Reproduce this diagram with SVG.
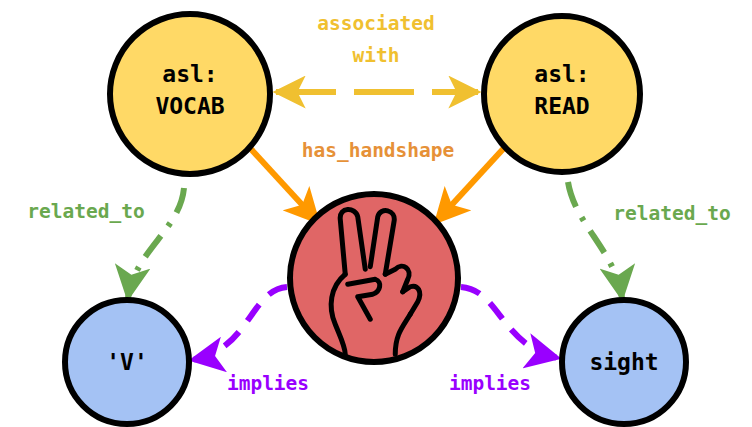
<svg xmlns="http://www.w3.org/2000/svg" width="752" height="427" viewBox="0 0 752 427">
<style>
.n{stroke:#000;stroke-width:6}
.t{font-family:"DejaVu Sans Mono",monospace;font-weight:bold;font-size:23px;text-anchor:middle}
.l{font-family:"DejaVu Sans Mono",monospace;font-weight:bold;font-size:19.5px;text-anchor:middle}
</style>
<defs>
<marker id="ay" viewBox="0 0 10 10" refX="9" refY="5" markerWidth="5.5" markerHeight="5.5" orient="auto-start-reverse" markerUnits="strokeWidth"><path d="M0,0L10,5L0,10L2.5,5Z" fill="#f0c030"/></marker>
<marker id="ao" viewBox="0 0 10 10" refX="9" refY="5" markerWidth="6" markerHeight="6" orient="auto" markerUnits="strokeWidth"><path d="M0,0L10,5L0,10L2.5,5Z" fill="#ff9900"/></marker>
<marker id="ag" viewBox="0 0 10 10" refX="9" refY="5" markerWidth="6" markerHeight="6" orient="auto" markerUnits="strokeWidth"><path d="M0,0L10,5L0,10L2.5,5Z" fill="#6aa84f"/></marker>
<marker id="ap" viewBox="0 0 10 10" refX="9" refY="5" markerWidth="6" markerHeight="6" orient="auto" markerUnits="strokeWidth"><path d="M0,0L10,5L0,10L2.5,5Z" fill="#9900ff"/></marker>
</defs>
<rect width="752" height="427" fill="#fff"/>
<g id="connectors" fill="none" stroke-width="6">
<path d="M276,92H478" stroke="#f0c030" stroke-dasharray="60,18" marker-start="url(#ay)" marker-end="url(#ay)"/>
<path d="M250,148L318,222" stroke="#ff9900" marker-end="url(#ao)"/>
<path d="M504,148L436,222" stroke="#ff9900" marker-end="url(#ao)"/>
<path d="M184,188C180,230 135,250 128,298" stroke="#6aa84f" stroke-dasharray="26,12,4,12" marker-end="url(#ag)"/>
<path d="M568,182C575,225 615,250 622,298" stroke="#6aa84f" stroke-dasharray="26,12,4,12" marker-end="url(#ag)"/>
<path d="M287,287C250,290 250,350 192,360" stroke="#9900ff" stroke-dasharray="20,14" marker-end="url(#ap)"/>
<path d="M461,287C500,290 500,345 558,358" stroke="#9900ff" stroke-dasharray="20,14" marker-end="url(#ap)"/>
</g>
<g id="labels">
<text class="l" x="376" y="30" fill="#f0c030">associated</text>
<text class="l" x="376" y="62" fill="#f0c030">with</text>
<text class="l" x="378" y="157" fill="#e69138">has_handshape</text>
<text class="l" x="86" y="218" fill="#6aa84f">related_to</text>
<text class="l" x="672" y="220" fill="#6aa84f">related_to</text>
<text class="l" x="268" y="390" fill="#9900ff">implies</text>
<text class="l" x="490" y="390" fill="#9900ff">implies</text>
</g>
<g id="vocab"><circle class="n" cx="190" cy="94" r="80" fill="#ffd966"/><text class="t" x="190" y="82">asl:</text><text class="t" x="190" y="114">VOCAB</text></g>
<g id="read"><circle class="n" cx="562" cy="94" r="78" fill="#ffd966"/><text class="t" x="562" y="82">asl:</text><text class="t" x="562" y="114">READ</text></g>
<g id="hand"><circle class="n" cx="374" cy="278" r="84" fill="#e06666"/>
<g fill="none" stroke="#000" stroke-width="4" stroke-linecap="round" stroke-linejoin="round" transform="translate(374,278) scale(1.25) translate(-375,-285)">
<path d="M352,282L348,238C347,228 360,228 362,236L368,278"/>
<path d="M372,276L378,236C380,228 393,230 391,240L384,282"/>
<path d="M384,282L392,278C398,272 406,278 402,286L398,296"/>
<path d="M398,296L404,292C410,290 414,296 410,304L404,314"/>
<path d="M352,282C340,292 338,308 344,322C348,332 352,340 352,346"/>
<path d="M404,314C398,324 392,330 392,346"/>
<path d="M354,290L376,286C382,288 380,296 374,298L362,300L372,318"/>
</g></g>
<g id="v"><circle class="n" cx="127" cy="362" r="62" fill="#a4c2f4"/><text class="t" x="127" y="370">'V'</text></g>
<g id="sight"><circle class="n" cx="624" cy="362" r="62" fill="#a4c2f4"/><text class="t" x="624" y="370">sight</text></g>
</svg>
